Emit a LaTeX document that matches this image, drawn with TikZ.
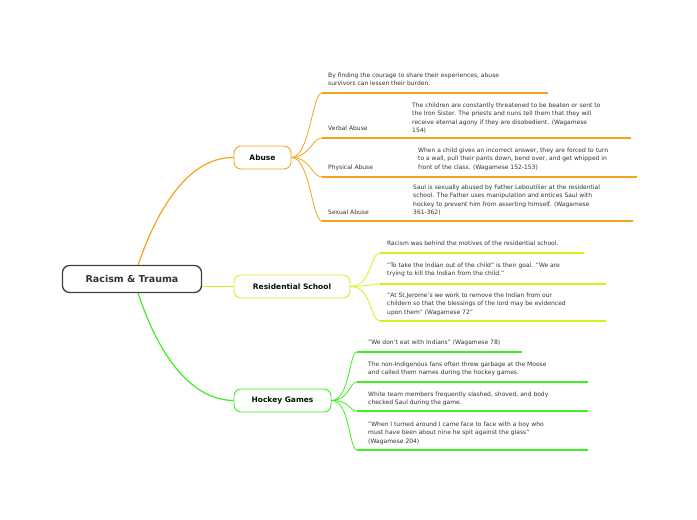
\documentclass[tikz,border=0pt]{standalone}
\usepackage{fontspec}
\setmainfont{DejaVu Sans}
\definecolor{cOr}{HTML}{F7A21B}
\definecolor{cYe}{HTML}{D4F01E}
\definecolor{cGr}{HTML}{3CF01E}
\definecolor{cTx}{HTML}{333333}
\begin{document}
\begin{tikzpicture}[x=1pt,y=-1pt,
 main/.style={draw=black!75,line width=1.3pt,rounded corners=7pt,minimum width=139pt,minimum height=27pt,font=\fontsize{9.5}{11}\selectfont\bfseries,text=cTx,fill=white},
 topic/.style={draw=#1,line width=0.9pt,rounded corners=7pt,minimum height=23pt,font=\fontsize{7.5}{9}\selectfont\bfseries,text=black!80!green!40!black,fill=white,inner xsep=8pt},
 txt/.style={anchor=north west,align=left,inner sep=0pt,font=\fontsize{6}{8.2}\selectfont,text=cTx},
 ul/.style={line width=1.4pt,#1},
 br/.style={line width=0.8pt,#1}]
\useasboundingbox (0,0) rectangle (697,520);
\node[main] (root) at (132,279) {Racism \& Trauma};
\node[topic=cOr,minimum width=57pt] (ab) at (262.5,157.5) {Abuse};
\node[topic=cYe,minimum width=116pt] (rs) at (292,286.5) {Residential School};
\node[topic=cGr,minimum width=97pt] (hg) at (282.5,400.5) {Hockey Games};
\draw[br=cOr,line width=1.2pt] (root.north east)++(-64,0) coordinate (r1) .. controls (150,230) and (180,157) .. (ab.west);
\draw[br=cYe,line width=1.2pt] (root.east|-rs) -- (rs.west);
\draw[br=cGr,line width=1.2pt] (root.south east)++(-64,0) coordinate (r3) .. controls (150,330) and (180,400) .. (hg.west);
% Abuse
\node[txt] (a0) at (328,73) {By finding the courage to share their experiences, abuse\\survivors can lessen their burden.};
\node[txt] (a1l) at (328,126) {Verbal Abuse};
\node[txt] (a1) at (412,103) {The children are constantly threatened to be beaten or sent to\\the Iron Sister. The priests and nuns tell them that they will\\receive eternal agony if they are disobedient. (Wagamese\\154)};
\node[txt] (a2l) at (328,165) {Physical Abuse};
\node[txt] (a2) at (418,148) {When a child gives an incorrect answer, they are forced to turn\\to a wall, pull their pants down, bend over, and get whipped in\\front of the class. (Wagamese 152-153)};
\node[txt] (a3l) at (328,210) {Sexual Abuse};
\node[txt] (a3) at (413,185) {Saul is sexually abused by Father Leboutilier at the residential\\school. The Father uses manipulation and entices Saul with\\hockey to prevent him from asserting himself. (Wagamese\\361-362)};
\foreach \y/\e in {93/548,138/631,177/637,221/633}{
 \coordinate (s\y) at (322,\y); \coordinate (e\y) at (\e,\y);
 \draw[br=cOr] (ab.east) .. controls (310,157) and (312,\y) .. (s\y);
 \draw[ul=cOr] (s\y) -- (e\y);}
% Residential
\node[txt] (r1t) at (387,241) {Racism was behind the motives of the residential school.};
\node[txt] (r2t) at (387,263) {"To take the Indian out of the child" is their goal. "We are\\trying to kill the Indian from the child."};
\node[txt] (r3t) at (387,293) {"At St.Jerome's we work to remove the Indian from our\\childern so that the blessings of the lord may be evidenced\\upon them" (Wagamese 72"};
\foreach \y/\e in {253/584,284/606,321/606}{
 \coordinate (t\y) at (380,\y); \coordinate (f\y) at (\e,\y);
 \draw[br=cYe] (rs.east) .. controls (372,286) and (370,\y) .. (t\y);
 \draw[ul=cYe] (t\y) -- (f\y);}
% Hockey
\node[txt] (h1t) at (368,340) {"We don't eat with Indians" (Wagamese 78)};
\node[txt] (h2t) at (368,362) {The non-Indigenous fans often threw garbage at the Moose\\and called them names during the hockey games.};
\node[txt] (h3t) at (368,392) {White team members frequently slashed, shoved, and body\\checked Saul during the game.};
\node[txt] (h4t) at (368,422) {"When I turned around I came face to face with a boy who\\must have been about nine he spit against the glass"\\(Wagamese 204)};
\foreach \y/\e in {352/522,382/588,411/588,450/588}{
 \coordinate (u\y) at (357,\y); \coordinate (g\y) at (\e,\y);
 \draw[br=cGr] (hg.east) .. controls (350,400) and (349,\y) .. (u\y);
 \draw[ul=cGr] (u\y) -- (g\y);}
\end{tikzpicture}
\end{document}
